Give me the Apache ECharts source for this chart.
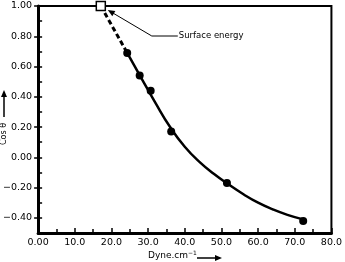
<!DOCTYPE html>
<html>
<head>
<meta charset="utf-8">
<script src="https://cdn.jsdelivr.net/npm/echarts@6/dist/echarts.min.js"></script>
<style>
  html, body { margin: 0; padding: 0; background: #fff; }
  #chart { width: 345px; height: 262px; }
</style>
</head>
<body>
<div id="chart"></div>
<script>
// measured points (surface tension vs cos theta)
const tension = [24.3, 27.7, 30.7, 36.3, 51.5, 72.3]
const cosTheta = [0.69, 0.54, 0.44, 0.17, -0.17, -0.42]

// fitted curve
const fitX = [24.3, 28, 32, 36, 40, 44, 48, 52, 56, 60, 64, 68, 72.3]
const fitY = [0.69, 0.53, 0.36, 0.2, 0.07, -0.03, -0.11, -0.18, -0.244, -0.3, -0.344, -0.38, -0.41]

// extrapolation to cos theta = 1
const extrapX = [17.1, 24.3]
const extrapY = [1.0, 0.69]

const yLabelValues = [-0.4, -0.2, 0, 0.2, 0.4, 0.6, 0.8, 1.0]
const annotationText = 'Surface energy'

const FONT = 'DejaVu Sans'
const pair = (xs, ys) => xs.map((x, i) => [x, ys[i]])
const fmtY = v => (v < 0 ? '\u2212' : '') + Math.abs(v).toFixed(2)

const chart = echarts.init(document.getElementById('chart'))

chart.setOption({
  animation: false,
  grid: {
    left: 37, right: 9, top: 6, bottom: 29,
    show: true, borderColor: '#000', borderWidth: 2,
  },
  xAxis: {
    type: 'value',
    min: 0, max: 80, interval: 10,
    axisLine: { onZero: false, lineStyle: { color: '#000', width: 3 } },
    axisTick: { inside: true, length: 5, lineStyle: { color: '#000', width: 1.5 } },
    minorTick: { show: true, splitNumber: 2, length: 4, lineStyle: { color: '#000', width: 1.5 } },
    splitLine: { show: false },
    axisLabel: {
      color: '#000', fontFamily: FONT, fontSize: 9.5, margin: 5,
      formatter: v => (v === 0 ? '0.00' : v.toFixed(1)),
    },
  },
  yAxis: [
    {
      type: 'value',
      min: -0.5, max: 1.0, interval: 0.1,
      axisLine: { onZero: false, lineStyle: { color: '#000', width: 3 } },
      axisTick: { inside: true, length: 4, lineStyle: { color: '#000', width: 1.5 } },
      splitLine: { show: false },
      axisLabel: { show: false },
    },
    {
      type: 'value',
      position: 'left',
      min: -0.5, max: 1.0,
      axisLine: { show: false, onZero: false },
      axisTick: {
        show: true, length: 4, customValues: yLabelValues,
        lineStyle: { color: '#000', width: 1.5 },
      },
      splitLine: { show: false },
      axisLabel: {
        color: '#000', fontFamily: FONT, fontSize: 9.5, margin: 6,
        customValues: yLabelValues,
        formatter: fmtY,
      },
    },
  ],
  series: [
    {
      name: 'extrapolation',
      type: 'line',
      data: pair(extrapX, extrapY),
      showSymbol: false,
      lineStyle: { color: '#000', width: 3, type: [5, 3] },
      z: 2,
    },
    {
      name: 'fit',
      type: 'line',
      data: pair(fitX, fitY),
      smooth: 0.5,
      showSymbol: false,
      lineStyle: { color: '#000', width: 2.5 },
      z: 3,
    },
    {
      name: 'measured',
      type: 'scatter',
      data: pair(tension, cosTheta),
      symbolSize: 8,
      itemStyle: { color: '#000', opacity: 1 },
      z: 4,
    },
    {
      name: 'surface energy',
      type: 'scatter',
      data: [[extrapX[0], extrapY[0]]],
      symbol: 'rect',
      symbolSize: 9,
      itemStyle: { color: '#fff', borderColor: '#000', borderWidth: 1.5, opacity: 1 },
      z: 5,
    },
  ],
})

// annotation and axis titles
const tip = chart.convertToPixel({ gridIndex: 0 }, [extrapX[0], extrapY[0]])
const ax = tip[0] + 7, ay = tip[1] + 4
const elbow = [tip[0] + 51, tip[1] + 30]
const ang = Math.atan2(ay - elbow[1], ax - elbow[0])
const head = (x, y, a, len, w) => [
  [x, y],
  [x - len * Math.cos(a) + w * Math.sin(a), y - len * Math.sin(a) - w * Math.cos(a)],
  [x - len * Math.cos(a) - w * Math.sin(a), y - len * Math.sin(a) + w * Math.cos(a)],
]

chart.setOption({
  graphic: [
    {
      type: 'polyline',
      shape: { points: [[elbow[0] + 26, elbow[1]], elbow, [ax + 4 * Math.cos(ang + Math.PI), ay + 4 * Math.sin(ang + Math.PI)]] },
      style: { stroke: '#000', lineWidth: 1, fill: null },
    },
    {
      type: 'polygon',
      shape: { points: head(ax, ay, ang, 7, 3) },
      style: { fill: '#000' },
    },
    {
      type: 'text',
      x: elbow[0] + 27, y: elbow[1],
      style: { text: annotationText, font: '8.5px "DejaVu Sans"', fill: '#000', verticalAlign: 'middle' },
    },
    {
      type: 'text',
      x: 148, y: 256,
      style: {
        text: 'Dyne.cm{sup|\u22121}',
        fill: '#000',
        verticalAlign: 'middle',
        font: '9px "DejaVu Sans"',
        rich: { sup: { fontSize: 6, fontFamily: FONT, padding: [0, 0, 6, 0] } },
      },
    },
    { type: 'line', shape: { x1: 197, y1: 258, x2: 216, y2: 258 }, style: { stroke: '#000', lineWidth: 1.5 } },
    { type: 'polygon', shape: { points: head(222, 258, 0, 7, 3) }, style: { fill: '#000' } },
    {
      type: 'text',
      x: 4, y: 134, rotation: Math.PI / 2,
      style: { text: 'Cos \u03b8', font: '8px "DejaVu Sans"', fill: '#000', align: 'center', verticalAlign: 'middle' },
    },
    { type: 'line', shape: { x1: 4, y1: 117, x2: 4, y2: 96 }, style: { stroke: '#000', lineWidth: 1.5 } },
    { type: 'polygon', shape: { points: head(4, 90, -Math.PI / 2, 7, 3) }, style: { fill: '#000' } },
  ],
})
</script>
</body>
</html>
